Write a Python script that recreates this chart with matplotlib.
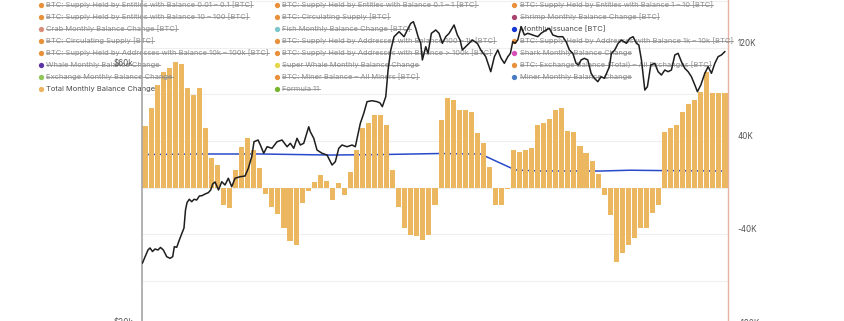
import numpy as np
import matplotlib
matplotlib.use("Agg")
import matplotlib.pyplot as plt
from matplotlib.lines import Line2D

plt.rcParams["font.family"] = ["Inter", "DejaVu Sans"]

# total monthly balance change, one bar per step [K BTC]
total_change_k = [
    52.8, 68.3, 88.0, 99.1, 102.5, 107.7, 106.0, 85.4, 79.4, 85.4,
    51.1, 25.4, 19.4, -14.8, -17.4, 15.2, 34.9, 42.6, 32.3, 16.9,
    -5.4, -16.5, -22.5, -34.5, -45.7, -49.1, -13.1, -3.0, 4.9, 10.9,
    5.7, -10.5, 4.0, -6.0, 13.4, 32.3, 51.1, 55.4, 62.3, 62.3,
    53.7, 15.2, -16.5, -34.5, -40.5, -41.4, -44.8, -40.5, -14.8, 58.0,
    76.8, 75.1, 66.5, 66.5, 64.8, 46.9, 38.3, 17.7, -14.8, -14.8,
    -1.0, 32.3, 30.6, 32.3, 34.0, 53.7, 55.4, 58.8, 66.5, 68.3,
    48.6, 47.7, 35.7, 29.7, 22.9, 11.7, -6.3, -23.4, -63.6, -55.9,
    -49.1, -43.1, -34.5, -34.5, -21.7, -14.8, 47.7, 51.1, 53.7, 64.8,
    71.7, 75.1, 82.0, 99.1, 81.1, 81.1, 81.1,
]

# monthly issuance [K BTC]
issuance_t = [-0.5, 9.1, 19.0, 30.6, 38.9, 48.8, 53.8, 55.5, 58.3, 61.3, 65.4, 75.3, 80.3, 85.3, 96.4]
issuance_k = [28.4, 28.9, 28.9, 28.0, 28.4, 29.3, 28.9, 29.0, 22.3, 15.2, 14.3, 14.3, 15.0, 14.7, 14.3]

# BTC price [$k]
price_t = [
    -0.42, 0.00, 0.49, 0.82, 1.24, 1.65, 2.15, 2.56, 3.03, 3.59, 4.14, 4.58, 4.85, 5.25, 5.68,
    6.12, 6.45, 6.70, 6.95, 7.33, 7.73, 8.11, 8.56, 8.99, 9.43, 9.93, 10.48, 10.87, 11.21, 11.59,
    12.17, 12.70, 13.24, 13.79, 14.35, 14.90, 15.73, 16.55, 17.10, 17.66, 18.04, 18.71, 19.09, 19.65,
    20.20, 21.02, 21.85, 22.68, 23.51, 24.05, 24.62, 25.16, 25.71, 26.27, 27.10, 27.36, 27.93, 28.47,
    29.30, 30.13, 30.96, 31.50, 32.07, 32.61, 33.44, 34.27, 34.81, 35.64, 36.21, 36.75, 37.58, 38.41,
    38.90, 39.28, 39.85, 40.23, 40.68, 41.22, 42.05, 42.88, 43.42, 43.99, 44.42, 44.81, 45.20, 45.64,
    45.91, 46.47, 46.85, 47.40, 48.13, 48.67, 49.22, 49.78, 50.33, 51.16, 51.70, 52.15, 52.53, 53.36,
    54.19, 55.01, 55.58, 56.40, 57.23, 57.83, 58.39, 58.94, 59.48, 60.05, 60.48, 60.87, 61.25, 61.70,
    62.25, 62.79, 63.36, 64.19, 65.01, 65.56, 66.39, 66.93, 67.50, 68.32, 69.15, 69.70, 70.25, 70.81,
    71.35, 71.74, 72.18, 72.73, 73.29, 73.84, 74.38, 74.95, 75.49, 76.04, 76.87, 77.20, 77.76, 78.31,
    78.85, 79.68, 80.25, 80.79, 81.34, 81.74, 82.17, 82.73, 83.16, 83.72, 84.38, 84.93, 85.48, 86.04,
    86.59, 87.13, 87.70, 88.24, 88.79, 89.35, 89.90, 90.44, 91.01, 91.44, 92.00, 92.66, 93.21, 93.76,
    94.32, 94.86, 95.41, 95.97,
]
price_k = [
    37.43, 38.12, 38.94, 39.17, 38.76, 39.05, 38.94, 39.23, 38.94, 38.16, 37.97, 38.16, 39.32, 39.25, 40.10,
    40.91, 41.49, 43.58, 44.43, 44.82, 44.54, 44.82, 44.74, 45.20, 45.24, 45.43, 45.59, 45.90, 46.60, 46.83,
    45.90, 46.86, 46.48, 47.26, 46.28, 47.26, 47.44, 47.52, 48.42, 49.76, 51.50, 51.70, 51.12, 50.16,
    50.92, 50.74, 51.50, 51.70, 50.92, 51.32, 50.74, 51.90, 51.12, 51.32, 53.24, 52.66, 51.90, 50.54,
    50.16, 49.96, 48.80, 49.18, 50.74, 51.12, 50.92, 51.12, 50.92, 53.64, 54.80, 56.15, 56.26, 56.15,
    56.00, 55.57, 56.73, 59.82, 62.15, 63.69, 64.27, 63.69, 64.47, 65.24, 65.43, 64.66, 63.69, 62.92,
    60.99, 62.53, 61.76, 64.08, 64.47, 64.08, 62.92, 63.69, 64.08, 65.05, 63.89, 63.31, 62.15, 62.73,
    63.31, 62.92, 62.15, 61.37, 59.63, 61.37, 62.15, 61.18, 60.60, 61.37, 61.76, 63.11, 62.92, 63.31,
    64.85, 63.89, 64.08, 63.89, 63.69, 64.08, 64.47, 64.66, 63.89, 63.69, 63.69, 63.11, 62.15, 61.76,
    60.60, 60.41, 60.99, 61.18, 60.99, 59.44, 58.86, 58.47, 59.05, 58.86, 60.21, 61.76, 62.15, 62.92,
    63.31, 62.92, 63.50, 63.69, 62.92, 62.73, 60.99, 57.50, 57.89, 60.41, 60.60, 59.63, 59.24, 59.82,
    59.63, 59.82, 61.57, 61.76, 60.79, 60.02, 59.63, 59.05, 58.08, 57.31, 58.08, 59.44, 60.21, 59.44,
    60.60, 61.37, 61.57, 61.95,
]

right_ticks = [-120, -80, -40, 0, 40, 80, 120, 160]
right_labels = ["-120K", "", "-40K", "", "40K", "", "120K", ""]
left_ticks = [30, 60]
left_labels = ["$30k", "$60k"]

ORANGE = "#e8913a"
legend_cols = [
    [
        "BTC: Supply Held by Entities with Balance 0.01 – 0.1 [BTC]",
        "BTC: Supply Held by Entities with Balance 10 – 100 [BTC]",
        "Crab Monthly Balance Change [BTC]",
        "BTC: Circulating Supply [BTC]",
        "BTC: Supply Held by Addresses with Balance 10k – 100k [BTC]",
        "Whale Monthly Balance Change",
        "Exchange Monthly Balance Change",
        "Total Monthly Balance Change",
    ],
    [
        "BTC: Supply Held by Entities with Balance 0.1 – 1 [BTC]",
        "BTC: Circulating Supply [BTC]",
        "Fish Monthly Balance Change [BTC]",
        "BTC: Supply Held by Addresses with Balance 100 – 1k [BTC]",
        "BTC: Supply Held by Addresses with Balance > 100k [BTC]",
        "Super Whale Monthly Balance Change",
        "BTC: Miner Balance – All Miners [BTC]",
        "Formula 11",
    ],
    [
        "BTC: Supply Held by Entities with Balance 1 – 10 [BTC]",
        "Shrimp Monthly Balance Change [BTC]",
        "Monthly Issuance [BTC]",
        "BTC: Supply Held by Addresses with Balance 1k – 10k [BTC]",
        "Shark Monthly Balance Change",
        "BTC: Exchange Balance (Total) – All Exchanges [BTC]",
        "Miner Monthly Balance Change",
    ],
]
legend_colors = [
    [ORANGE, ORANGE, "#d98c7c", ORANGE, ORANGE, "#5b34a6", "#8fc657", "#ebb45e"],
    [ORANGE, ORANGE, "#7cc6c9", ORANGE, ORANGE, "#e6d64a", ORANGE, "#78b52e"],
    [ORANGE, "#a8426e", "#1537d8", ORANGE, "#d84db6", ORANGE, "#4a7cc2"],
]
legend_active = ["Total Monthly Balance Change", "Monthly Issuance [BTC]"]

W, H = 845, 321
fig = plt.figure(figsize=(W / 100, H / 100), dpi=100)
ax = fig.add_axes([142 / W, -19 / H, 586 / W, 360 / H])
axp = ax.twinx()

# bars + issuance on the right scale
x = np.arange(len(total_change_k))
ax.plot(issuance_t, issuance_k, color="#2a4bc9", lw=1.1, zorder=1.5)
ax.bar(x, total_change_k, width=0.84, color="#ecb761", zorder=2)
ax.set_xlim(-0.5, len(total_change_k) - 0.5)
ax.set_ylim(-130.4, 177.9)
ax.yaxis.tick_right()
ax.set_yticks(right_ticks, right_labels, va="bottom")
ax.tick_params(axis="y", length=0, pad=7, labelsize=5.8, labelcolor="#555555")
ax.set_xticks([])
ax.grid(axis="y", color="#efefef", lw=0.8)
ax.set_axisbelow(True)
for s in ["top", "bottom", "left"]:
    ax.spines[s].set_visible(False)
ax.spines["right"].set_color("#e6b2a4")
ax.spines["right"].set_linewidth(1.0)

# price on the left scale
axp.plot(price_t, price_k, color="#1e1e1e", lw=1.1, zorder=3)
axp.set_ylim(28.49, 70.27)
axp.yaxis.tick_left()
axp.set_yticks(left_ticks, left_labels, va="bottom")
axp.tick_params(axis="y", length=0, pad=6.5, labelsize=5.8, labelcolor="#555555")
for s in ["top", "bottom", "right"]:
    axp.spines[s].set_visible(False)
axp.spines["left"].set_color("#a6a6a6")
axp.spines["left"].set_linewidth(1.2)

# legend laid out like the original, drawn on the page
col_x = [41, 277, 514]
texts = []
for c, (labels, colors) in enumerate(zip(legend_cols, legend_colors)):
    for r, (lab, col) in enumerate(zip(labels, colors)):
        yy = 1 - (4.8 + 12 * r) / H
        ax.plot([col_x[c] / W], [yy], "o", ms=3.8, color=col, mec="none",
                transform=fig.transFigure, clip_on=False, zorder=5)
        active = lab in legend_active
        t = ax.text((col_x[c] + 5.5) / W, yy, lab, transform=fig.transFigure,
                    fontsize=5.4, color="#4a4a4a" if active else "#8c8c8c",
                    va="center", ha="left", clip_on=False, zorder=5)
        if not active:
            texts.append(t)

fig.canvas.draw()
rend = fig.canvas.get_renderer()
inv = fig.transFigure.inverted()
for t in texts:
    bb = t.get_window_extent(rend)
    (x0, y0), (x1, y1) = inv.transform([(bb.x0, bb.y0), (bb.x1, bb.y1)])
    ym = y0 + (y1 - y0) * 0.47
    ax.add_line(Line2D([x0, x1], [ym, ym], transform=fig.transFigure, color="#8c8c8c",
                       lw=0.6, clip_on=False, zorder=5))

plt.savefig("out.png", dpi=100)
